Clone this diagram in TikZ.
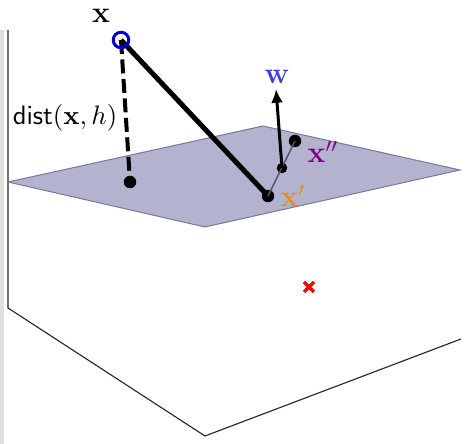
\documentclass[tikz,border=0pt]{standalone}
\usepackage{amsmath}
\usetikzlibrary{arrows.meta}
\definecolor{planefill}{RGB}{179,179,207}
\definecolor{planeedge}{RGB}{120,120,155}
\definecolor{wblue}{RGB}{60,60,225}
\definecolor{xpurple}{RGB}{128,0,128}
\definecolor{xorange}{RGB}{240,140,20}
\begin{document}
\begin{tikzpicture}[x=0.4pt,y=-0.4pt,
  dot/.style={circle,fill=black,inner sep=0pt,minimum size=5pt},
  smalldot/.style={circle,fill=black,inner sep=0pt,minimum size=4.2pt},
  boxline/.style={line width=0.45pt,black!85},
  vlabel/.style={font=\large}]
\useasboundingbox (0,0) rectangle (474,444);
\fill[black!12] (0,30) rectangle (4,444); % left edge strip
% box edges
\coordinate (top) at (8,30);
\coordinate (bl) at (8,308);
\coordinate (bm) at (205,436);
\coordinate (br) at (461,339);
\draw[boxline] (top) -- (bl) -- (bm) -- (br);
% the plane h
\coordinate (pl) at (8,182);
\coordinate (pb) at (205,227);
\coordinate (pr) at (460,170);
\coordinate (pt) at (263,126);
\filldraw[fill=planefill,draw=planeedge,line width=0.4pt] (pl) -- (pb) -- (pr) -- (pt) -- cycle;
% points
\coordinate (x) at (121,40);
\node[dot] (foot) at (130,182) {};
\node[dot] (xp) at (268,196) {};
\node[dot] (xpp) at (295,141) {};
\node[smalldot] (mid) at (282,168) {};
\coordinate (wtip) at (276,89);
\draw[line width=1.6pt,dash pattern=on 5.6pt off 2.2pt] (x) -- (foot.center);
\draw[line width=2pt] (x) -- (xp.center);
\draw[line width=0.6pt,planeedge!70!black] (xp.center) -- (xpp.center);
\draw[line width=1.2pt,-{Latex[length=5.5pt,width=4.8pt]}] (mid.center) -- (wtip);
\node[draw=blue!80!black,line width=1.2pt,circle,inner sep=0pt,minimum size=6.2pt] (xc) at (x) {};
% red cross
\coordinate (cross) at (309,287);
\draw[red,line width=1.4pt] ([shift={(-5,-5)}]cross) -- ([shift={(5,5)}]cross)
  ([shift={(-5,5)}]cross) -- ([shift={(5,-5)}]cross);
% labels
\node[vlabel] (lblx) at (101,16) {$\mathbf{x}$};
\node[scale=1.07] (lbldist) at (65,118) {$\mathsf{dist}(\mathbf{x},h)$};
\node[vlabel,text=wblue] (lblw) at (277,77) {$\mathbf{w}$};
\node[vlabel,text=xpurple] (lblxpp) at (323,152) {$\mathbf{x}''$};
\node[vlabel,text=xorange] (lblxp) at (293,196) {$\mathbf{x}'$};
\end{tikzpicture}
\end{document}
